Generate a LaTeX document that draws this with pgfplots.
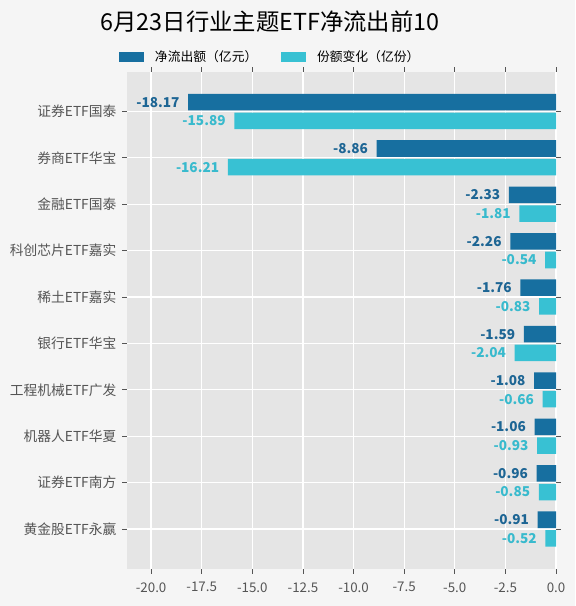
\documentclass[border=0pt]{standalone}
\usepackage{pgfplots}
\pgfplotsset{compat=1.18}
\usepackage{fontspec}
\setmainfont{Noto Sans CJK SC}
\definecolor{cA}{HTML}{176FA0}
\definecolor{cB}{HTML}{38C1D3}
\definecolor{cAt}{HTML}{1D6594}
\definecolor{cBt}{HTML}{38BACD}
\definecolor{pbg}{HTML}{E5E5E5}
\definecolor{obg}{HTML}{F5F5F5}
\definecolor{lab}{HTML}{555555}
\begin{document}
\begin{tikzpicture}[x=0.75pt,y=0.75pt]
\fill[obg] (0,0) rectangle (575,606);
\node[font=\fontsize{17.5}{20}\selectfont, text=black] at (270,584) {6月23日行业主题ETF净流出前10};
\begin{axis}[
  at={(95.25pt,27.75pt)}, anchor=south west,
  scale only axis, width=321.75pt, height=372.75pt,
  xbar, bar width=12.4pt,
  xmin=-21.19, xmax=0,
  ymin=-0.86, ymax=9.85,
  axis background/.style={fill=pbg},
  axis line style={draw=none},
  grid=major, grid style={white, line width=0.9pt},
  tick style={lab, line width=0.6pt},
  tick align=outside, major tick length=3.5pt,
  xtick={-20,-17.5,...,0},
  xticklabels={-20.0,-17.5,-15.0,-12.5,-10.0,-7.5,-5.0,-2.5,0.0},
  ytick={0,...,9},
  yticklabels={黄金股ETF永嬴,证券ETF南方,机器人ETF华夏,工程机械ETF广发,银行ETF华宝,稀土ETF嘉实,科创芯片ETF嘉实,金融ETF国泰,券商ETF华宝,证券ETF国泰},
  yticklabel style={font=\fontsize{10.3}{12}\selectfont, text=lab, xshift=-1pt},
  xticklabel style={font=\fontsize{10}{12}\selectfont, text=lab, yshift=-3pt},
  legend columns=2,
  legend style={at={(rel axis cs:-0.0186,1.030)}, anchor=west, draw=none, fill=none,
    font=\fontsize{9.6}{11}\selectfont, text=black, inner xsep=0pt, inner ysep=0pt,
    /tikz/every odd column/.append style={column sep=6pt},
    /tikz/every even column/.append style={column sep=16pt}},
  legend image code/.code={\fill[#1] (0pt,-3.75pt) rectangle (18.75pt,3.75pt);},
  nodes near coords={\pgfmathprintnumber[fixed,fixed zerofill,precision=2,assume math mode=true]{\pgfplotspointmeta}},
  every node near coord/.append style={anchor=east, xshift=-3pt, font=\fontsize{10.2}{12}\selectfont\bfseries},
]
\addplot[fill=cA, draw=none, bar shift=7pt, every node near coord/.append style={text=cAt}] coordinates {
  (-18.17,9) (-8.86,8) (-2.33,7) (-2.26,6) (-1.76,5) (-1.59,4) (-1.08,3) (-1.06,2) (-0.96,1) (-0.91,0)};
\addplot[fill=cB, draw=none, bar shift=-7pt, every node near coord/.append style={text=cBt}] coordinates {
  (-15.89,9) (-16.21,8) (-1.81,7) (-0.54,6) (-0.83,5) (-2.04,4) (-0.66,3) (-0.93,2) (-0.85,1) (-0.52,0)};
\legend{净流出额（亿元）,份额变化（亿份）}
\end{axis}
\end{tikzpicture}
\end{document}
